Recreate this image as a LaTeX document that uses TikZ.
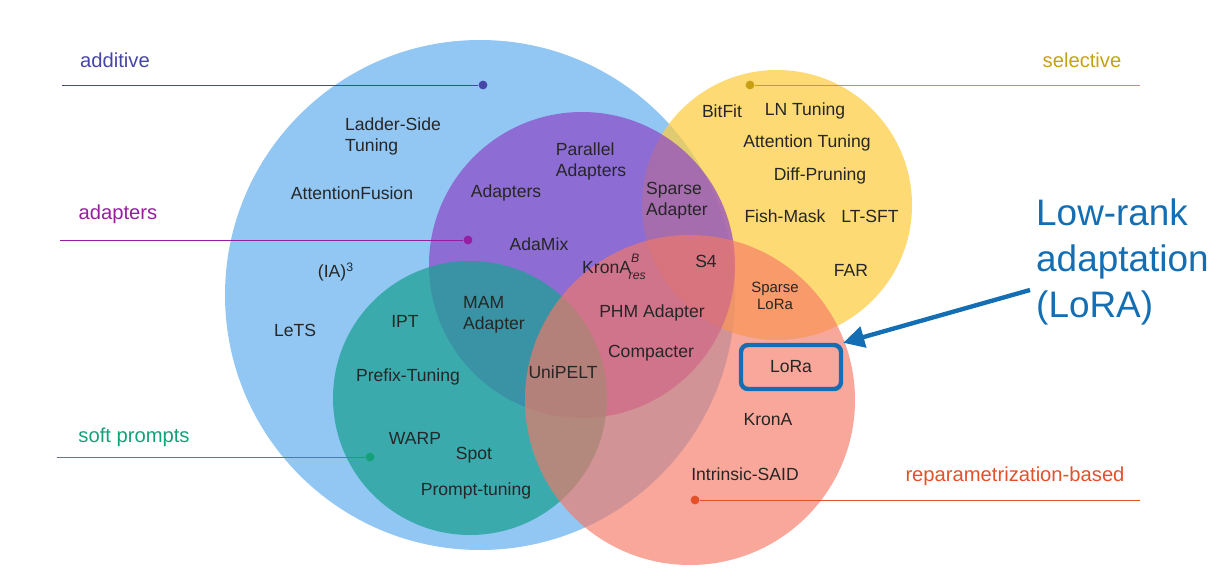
\documentclass[tikz,border=0pt]{standalone}
\usepackage{fontspec}
\setmainfont{Liberation Sans}
\usetikzlibrary{arrows.meta}
\definecolor{cblue}{RGB}{110,180,240}
\definecolor{cpurp}{RGB}{140,70,200}
\definecolor{cyel}{RGB}{252,205,70}
\definecolor{cteal}{RGB}{30,160,150}
\definecolor{cred}{RGB}{245,120,100}
\definecolor{ladd}{RGB}{70,70,170}
\definecolor{lada}{RGB}{150,30,160}
\definecolor{lsel}{RGB}{200,160,20}
\definecolor{lsoft}{RGB}{20,160,120}
\definecolor{lrep}{RGB}{230,80,40}
\definecolor{lora}{RGB}{20,110,180}
\begin{document}
\begin{tikzpicture}[x=0.02cm,y=-0.02cm,
 t/.style={font=\fontsize{10}{12}\selectfont,align=left,text=black!85},
 lab/.style={font=\fontsize{11.5}{13}\selectfont},
 dot/.style={circle,fill,inner sep=0pt,minimum size=5pt}]
\useasboundingbox (0,0) rectangle (1226,578);
\fill[cblue,opacity=0.75] (480,295) circle (255);
\fill[cyel,opacity=0.75] (777,205) circle (135);
\fill[cpurp,opacity=0.7] (582,265) circle (153);
\fill[cteal,opacity=0.75] (470,398) circle (137);
\fill[cred,opacity=0.65] (690,400) circle (165);
% legend lines
\node[dot,ladd] (dA) at (483,85) {};
\coordinate (eA) at (62,85);
\draw[ladd] (eA) -- (dA);
\node[lab,text=ladd] at (115,60) {additive};
\node[dot,lada] (dB) at (468,240) {};
\coordinate (eB) at (60,240);
\draw[lada] (eB) -- (dB);
\node[lab,text=lada] at (118,214) {adapters};
\node[dot,lsoft] (dC) at (370,457) {};
\coordinate (eC) at (57,457);
\draw[lsoft] (eC) -- (dC);
\node[lab,text=lsoft] at (134,437) {soft prompts};
\node[dot,lsel] (dD) at (750,85) {};
\coordinate (eD) at (1140,85);
\draw[lsel] (dD) -- (eD);
\node[lab,text=lsel] at (1082,60) {selective};
\node[dot,lrep] (dE) at (695,500) {};
\coordinate (eE) at (1140,500);
\draw[lrep] (dE) -- (eE);
\node[lab,text=lrep] at (1015,476) {reparametrization-based};
% texts
\node[t] at (393,136) {Ladder-Side\\Tuning};
\node[t] at (352,193) {AttentionFusion};
\node[t] at (336,272) {(IA)\textsuperscript{3}};
\node[t] at (295,330) {LeTS};
\node[t] at (591,161) {Parallel\\Adapters};
\node[t] at (506,193) {Adapters};
\node[t] at (539,244) {AdaMix};
\node[t] at (677,201) {Sparse\\Adapter};
\node[t] at (706,261) {S4};
\node[t] at (614,267) {KronA\raisebox{1.2ex}{\fontsize{7}{8}\selectfont\itshape B}\kern-0.6em\raisebox{-0.6ex}{\fontsize{7}{8}\selectfont\itshape res}};
\node[t] at (652,313) {PHM Adapter};
\node[t] at (651,353) {Compacter};
\node[t] at (494,315) {MAM\\Adapter};
\node[t] at (405,321) {IPT};
\node[t] at (408,377) {Prefix-Tuning};
\node[t] at (563,372) {UniPELT};
\node[t] at (415,438) {WARP};
\node[t] at (474,455) {Spot};
\node[t] at (476,491) {Prompt-tuning};
\node[t] at (722,111) {BitFit};
\node[t] at (805,111) {LN Tuning};
\node[t] at (807,143) {Attention Tuning};
\node[t] at (820,176) {Diff-Pruning};
\node[t] at (785,216) {Fish-Mask};
\node[t] at (870,216) {LT-SFT};
\node[t] at (851,270) {FAR};
\node[t,font=\fontsize{8.5}{10}\selectfont,align=center] at (775,296) {Sparse\\LoRa};
\node[t] at (768,420) {KronA};
\node[t] at (745,474) {Intrinsic-SAID};
\node[t,draw=lora,line width=2.5pt,rounded corners=4pt,minimum width=100*0.02cm,minimum height=44*0.02cm] (L) at (791,367) {LoRa};
\node[align=left,text=lora,font=\fontsize{21}{26}\selectfont,anchor=west] (T) at (1030,262) {Low-rank\\adaptation\\(LoRA)};
\coordinate (aS) at (1030,290);
\draw[lora,line width=2.5pt,-{Triangle[length=12pt,width=12pt]}] (aS) -- (L.north east);
\end{tikzpicture}
\end{document}
